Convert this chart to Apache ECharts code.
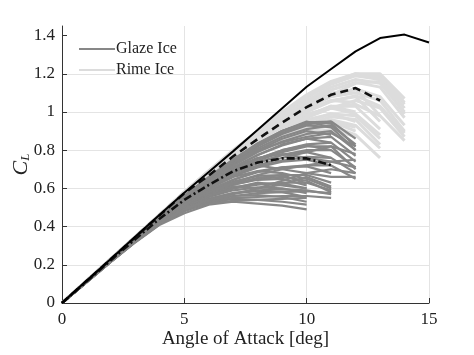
<!DOCTYPE html>
<html>
<head>
<meta charset="utf-8">
<script src="https://cdn.jsdelivr.net/npm/echarts@6/dist/echarts.min.js"></script>
<style>
html,body{margin:0;padding:0;background:#fff;}
#chart{width:474px;height:355px;}
</style>
</head>
<body>
<div id="chart"></div>
<script>
// Angle of attack [deg]
const angles = [0,1,2,3,4,5,6,7,8,9,10,11,12,13,14,15];
const xTicks = [0,5,10,15];
const yTicks = [0,0.2,0.4,0.6,0.8,1,1.2,1.4];

// Clean airfoil
const cleanCL = [0,0.116,0.232,0.348,0.463,0.577,0.686,0.795,0.907,1.02,1.132,1.225,1.317,1.387,1.405,1.364];
// Mean curves
const rimeMeanCL = [0,0.115,0.23,0.345,0.46,0.575,0.668,0.768,0.858,0.945,1.025,1.09,1.125,1.06];
const glazeMeanCL = [0,0.112,0.224,0.335,0.442,0.54,0.618,0.69,0.735,0.757,0.757,0.722];

// Individual glaze-ice cases
const glazeCurves = [
  [0,0.108,0.215,0.318,0.41,0.47,0.515,0.53,0.52,0.51,0.49],
  [0,0.108,0.216,0.32,0.413,0.48,0.525,0.545,0.54,0.53,0.515],
  [0,0.109,0.217,0.322,0.416,0.49,0.535,0.56,0.565,0.555,0.53],
  [0,0.109,0.218,0.324,0.42,0.495,0.545,0.575,0.585,0.58,0.555],
  [0,0.11,0.219,0.326,0.424,0.50,0.555,0.59,0.605,0.60,0.575],
  [0,0.11,0.22,0.328,0.427,0.505,0.565,0.605,0.625,0.625,0.60],
  [0,0.111,0.221,0.33,0.43,0.51,0.575,0.62,0.645,0.65,0.615],
  [0,0.111,0.222,0.332,0.433,0.515,0.585,0.635,0.665,0.67,0.625],
  [0,0.108,0.216,0.321,0.415,0.485,0.52,0.535,0.54,0.545,0.55],
  [0,0.11,0.22,0.326,0.425,0.505,0.56,0.60,0.63,0.615,0.60],
  [0,0.108,0.216,0.32,0.414,0.485,0.53,0.55,0.555,0.56,0.56,0.55],
  [0,0.109,0.217,0.322,0.417,0.49,0.535,0.56,0.575,0.58,0.585,0.575],
  [0,0.109,0.218,0.324,0.42,0.495,0.545,0.575,0.59,0.595,0.59,0.57],
  [0,0.11,0.22,0.327,0.425,0.505,0.56,0.60,0.62,0.63,0.63,0.59],
  [0,0.11,0.22,0.328,0.428,0.51,0.57,0.62,0.65,0.66,0.64,0.58],
  [0,0.11,0.22,0.327,0.426,0.51,0.58,0.61,0.60,0.62,0.66,0.61],
  [0,0.111,0.221,0.33,0.43,0.512,0.575,0.625,0.655,0.67,0.67,0.63],
  [0,0.111,0.222,0.332,0.435,0.525,0.60,0.66,0.69,0.68,0.65,0.60],
  [0,0.111,0.222,0.332,0.434,0.52,0.59,0.645,0.685,0.71,0.715,0.68],
  [0,0.112,0.223,0.334,0.437,0.527,0.60,0.665,0.71,0.74,0.75,0.72],
  [0,0.112,0.224,0.335,0.44,0.533,0.612,0.68,0.735,0.775,0.79,0.76],
  [0,0.112,0.225,0.336,0.442,0.539,0.622,0.695,0.755,0.80,0.825,0.80],
  [0,0.113,0.225,0.337,0.444,0.545,0.632,0.71,0.775,0.83,0.86,0.84],
  [0,0.113,0.226,0.338,0.446,0.55,0.64,0.725,0.80,0.86,0.90,0.88],
  [0,0.113,0.226,0.339,0.448,0.555,0.648,0.74,0.82,0.885,0.93,0.92],
  [0,0.113,0.227,0.34,0.45,0.56,0.655,0.75,0.835,0.90,0.945,0.95],
  [0,0.111,0.222,0.332,0.434,0.52,0.59,0.645,0.69,0.71,0.72,0.72,0.65],
  [0,0.109,0.218,0.323,0.418,0.49,0.54,0.57,0.60,0.64,0.68,0.70,0.68],
  [0,0.112,0.224,0.335,0.44,0.535,0.615,0.685,0.72,0.70,0.68,0.66,0.66],
  [0,0.111,0.222,0.331,0.432,0.515,0.58,0.63,0.67,0.70,0.72,0.74,0.71],
  [0,0.112,0.223,0.334,0.437,0.527,0.60,0.665,0.715,0.745,0.765,0.76,0.68],
  [0,0.112,0.224,0.335,0.44,0.533,0.612,0.68,0.735,0.775,0.80,0.80,0.71],
  [0,0.112,0.225,0.337,0.445,0.545,0.635,0.705,0.76,0.78,0.76,0.74,0.75],
  [0,0.112,0.225,0.336,0.442,0.539,0.622,0.695,0.755,0.80,0.83,0.84,0.74],
  [0,0.112,0.223,0.334,0.438,0.53,0.605,0.67,0.72,0.76,0.79,0.82,0.78],
  [0,0.113,0.225,0.337,0.444,0.545,0.632,0.71,0.775,0.825,0.86,0.87,0.77],
  [0,0.113,0.226,0.338,0.446,0.55,0.64,0.72,0.79,0.845,0.885,0.90,0.80],
  [0,0.113,0.226,0.339,0.448,0.553,0.645,0.73,0.80,0.84,0.87,0.89,0.82],
  [0,0.113,0.226,0.339,0.448,0.555,0.648,0.735,0.81,0.87,0.91,0.93,0.83],
  [0,0.113,0.227,0.34,0.45,0.56,0.655,0.745,0.825,0.89,0.935,0.95,0.86],
  [0,0.113,0.227,0.34,0.45,0.558,0.652,0.745,0.83,0.90,0.95,0.92,0.80],
  [0,0.113,0.227,0.341,0.451,0.562,0.66,0.752,0.835,0.90,0.945,0.94,0.82],
  [0,0.112,0.225,0.336,0.443,0.542,0.62,0.69,0.745,0.79,0.82,0.82,0.70]
];

// Individual rime-ice cases
const rimeCurves = [
  [0,0.114,0.228,0.342,0.456,0.565,0.655,0.73,0.80,0.86,0.90,0.90],
  [0,0.114,0.229,0.343,0.457,0.567,0.66,0.745,0.82,0.885,0.935,0.95],
  [0,0.114,0.229,0.344,0.458,0.568,0.665,0.76,0.84,0.90,0.94,0.93],
  [0,0.115,0.229,0.344,0.458,0.569,0.665,0.755,0.835,0.905,0.96,0.99],
  [0,0.114,0.228,0.342,0.455,0.562,0.65,0.725,0.79,0.845,0.885,0.91,0.87],
  [0,0.114,0.228,0.343,0.457,0.566,0.66,0.74,0.81,0.87,0.92,0.95,0.90],
  [0,0.114,0.228,0.343,0.457,0.566,0.66,0.75,0.83,0.88,0.92,0.95,0.92],
  [0,0.115,0.229,0.344,0.458,0.569,0.668,0.755,0.83,0.895,0.95,0.99,0.95],
  [0,0.115,0.23,0.345,0.46,0.572,0.673,0.765,0.85,0.92,0.98,1.03,1.00],
  [0,0.115,0.23,0.345,0.461,0.575,0.678,0.775,0.865,0.945,1.01,1.06,1.05],
  [0,0.115,0.23,0.346,0.462,0.577,0.682,0.785,0.88,0.965,1.04,1.10,1.10],
  [0,0.114,0.228,0.342,0.455,0.563,0.655,0.735,0.80,0.855,0.90,0.93,0.88,0.76],
  [0,0.114,0.228,0.343,0.457,0.567,0.662,0.745,0.815,0.875,0.925,0.96,0.93,0.81],
  [0,0.114,0.228,0.342,0.456,0.564,0.658,0.74,0.815,0.88,0.935,0.975,0.96,0.83],
  [0,0.115,0.229,0.344,0.458,0.57,0.668,0.755,0.83,0.895,0.95,0.99,0.98,0.86],
  [0,0.115,0.23,0.345,0.46,0.572,0.674,0.77,0.855,0.93,0.99,1.02,0.99,0.88],
  [0,0.115,0.23,0.345,0.46,0.573,0.675,0.768,0.85,0.92,0.98,1.03,1.03,0.91],
  [0,0.115,0.23,0.345,0.461,0.576,0.68,0.778,0.865,0.94,1.005,1.06,1.08,0.95],
  [0,0.115,0.23,0.346,0.462,0.578,0.684,0.786,0.878,0.96,1.03,1.09,1.12,0.98],
  [0,0.115,0.23,0.345,0.46,0.572,0.672,0.762,0.84,0.91,0.97,1.02,1.04,0.98,0.85],
  [0,0.115,0.23,0.345,0.46,0.571,0.67,0.76,0.845,0.915,0.975,1.02,1.06,1.02,0.87],
  [0,0.115,0.23,0.345,0.461,0.575,0.678,0.772,0.857,0.933,1.0,1.055,1.085,1.03,0.89],
  [0,0.115,0.23,0.346,0.461,0.575,0.68,0.78,0.87,0.95,1.02,1.08,1.10,1.06,0.90],
  [0,0.115,0.23,0.346,0.462,0.577,0.682,0.782,0.872,0.953,1.025,1.085,1.12,1.08,0.93],
  [0,0.115,0.231,0.346,0.463,0.579,0.686,0.79,0.885,0.972,1.05,1.115,1.155,1.13,0.97],
  [0,0.115,0.23,0.346,0.462,0.577,0.684,0.785,0.875,0.955,1.03,1.09,1.15,1.16,0.99],
  [0,0.116,0.231,0.346,0.462,0.578,0.686,0.79,0.885,0.975,1.06,1.13,1.17,1.15,1.0],
  [0,0.116,0.231,0.347,0.463,0.58,0.69,0.797,0.895,0.99,1.075,1.145,1.19,1.17,1.02],
  [0,0.116,0.232,0.347,0.464,0.581,0.692,0.80,0.90,0.995,1.085,1.155,1.2,1.18,1.04],
  [0,0.116,0.231,0.347,0.463,0.58,0.69,0.795,0.895,0.99,1.08,1.15,1.19,1.19,1.05],
  [0,0.116,0.232,0.347,0.464,0.581,0.692,0.80,0.90,1.0,1.09,1.16,1.2,1.2,1.07]
];

const GLAZE = '#878787';
const RIME = '#dcdcdc';
const FONT = '"Liberation Serif", "DejaVu Serif", serif';

function pts(arr){ return arr.map((v,i)=>[angles[i], v]); }

const series = [];
rimeCurves.forEach(c=>series.push({
  name:'Rime Ice', type:'line', data:pts(c), symbol:'none', silent:true,
  color:RIME, lineStyle:{width:3, color:RIME}, z:1
}));
glazeCurves.forEach(c=>series.push({
  name:'Glaze Ice', type:'line', data:pts(c), symbol:'none', silent:true,
  color:GLAZE, lineStyle:{width:2.2, color:GLAZE}, z:2
}));
series.push({name:'rimeMean', type:'line', data:pts(rimeMeanCL), symbol:'none', silent:true,
  color:'#000', lineStyle:{width:2.6, color:'#111', type:[8,5]}, z:5});
series.push({name:'glazeMean', type:'line', data:pts(glazeMeanCL), symbol:'none', silent:true,
  color:'#000', lineStyle:{width:2.6, color:'#111', type:[8,3,2,3]}, z:5});
series.push({name:'clean', type:'line', data:pts(cleanCL), symbol:'none', silent:true,
  color:'#000', lineStyle:{width:2, color:'#000'}, z:6});

const chart = echarts.init(document.getElementById('chart'), null, {renderer:'canvas'});
chart.setOption({
  animation:false,
  backgroundColor:'#fff',
  grid:{left:62, right:45, top:26, bottom:52, containLabel:false, outerBoundsMode:'none'},
  legend:{
    data:['Glaze Ice','Rime Ice'], orient:'vertical', left:74, top:36,
    icon:'rect', itemWidth:36, itemHeight:2, itemGap:5,
    textStyle:{fontFamily:FONT, fontSize:16, color:'#222', lineHeight:15, padding:[0,0,0,-4]}
  },
  xAxis:{
    type:'value', min:0, max:15, interval:5,
    name:'Angle of Attack [deg]', nameLocation:'middle', nameGap:27, nameMoveOverlap:false,
    nameTextStyle:{fontFamily:FONT, fontSize:19, color:'#222'},
    axisLine:{show:true, onZero:false, lineStyle:{color:'#333', width:1}},
    axisTick:{show:true, inside:true, length:5, lineStyle:{color:'#333'}, customValues:xTicks},
    axisLabel:{fontFamily:FONT, fontSize:17, color:'#222', margin:8, customValues:xTicks},
    splitLine:{show:true, lineStyle:{color:'#e4e4e4', width:1}}
  },
  yAxis:{
    type:'value', min:0, max:1.45,
    name:'{c|C}{l|L}', nameLocation:'middle', nameGap:30, nameRotate:90, nameMoveOverlap:false,
    nameTextStyle:{rich:{
      c:{fontFamily:FONT, fontStyle:'italic', fontSize:22, color:'#222'},
      l:{fontFamily:FONT, fontStyle:'italic', fontSize:13, color:'#222', padding:[9,0,0,0]}
    }},
    axisLine:{show:true, lineStyle:{color:'#333', width:1}},
    axisTick:{show:true, inside:true, length:5, lineStyle:{color:'#333'}, customValues:yTicks},
    axisLabel:{fontFamily:FONT, fontSize:17, color:'#222', margin:7, customValues:yTicks,
      formatter:v=>String(Math.round(v*10)/10)},
    splitLine:{show:true, showMaxLine:false, lineStyle:{color:'#e4e4e4', width:1}}
  },
  series:series
});
</script>
</body>
</html>
